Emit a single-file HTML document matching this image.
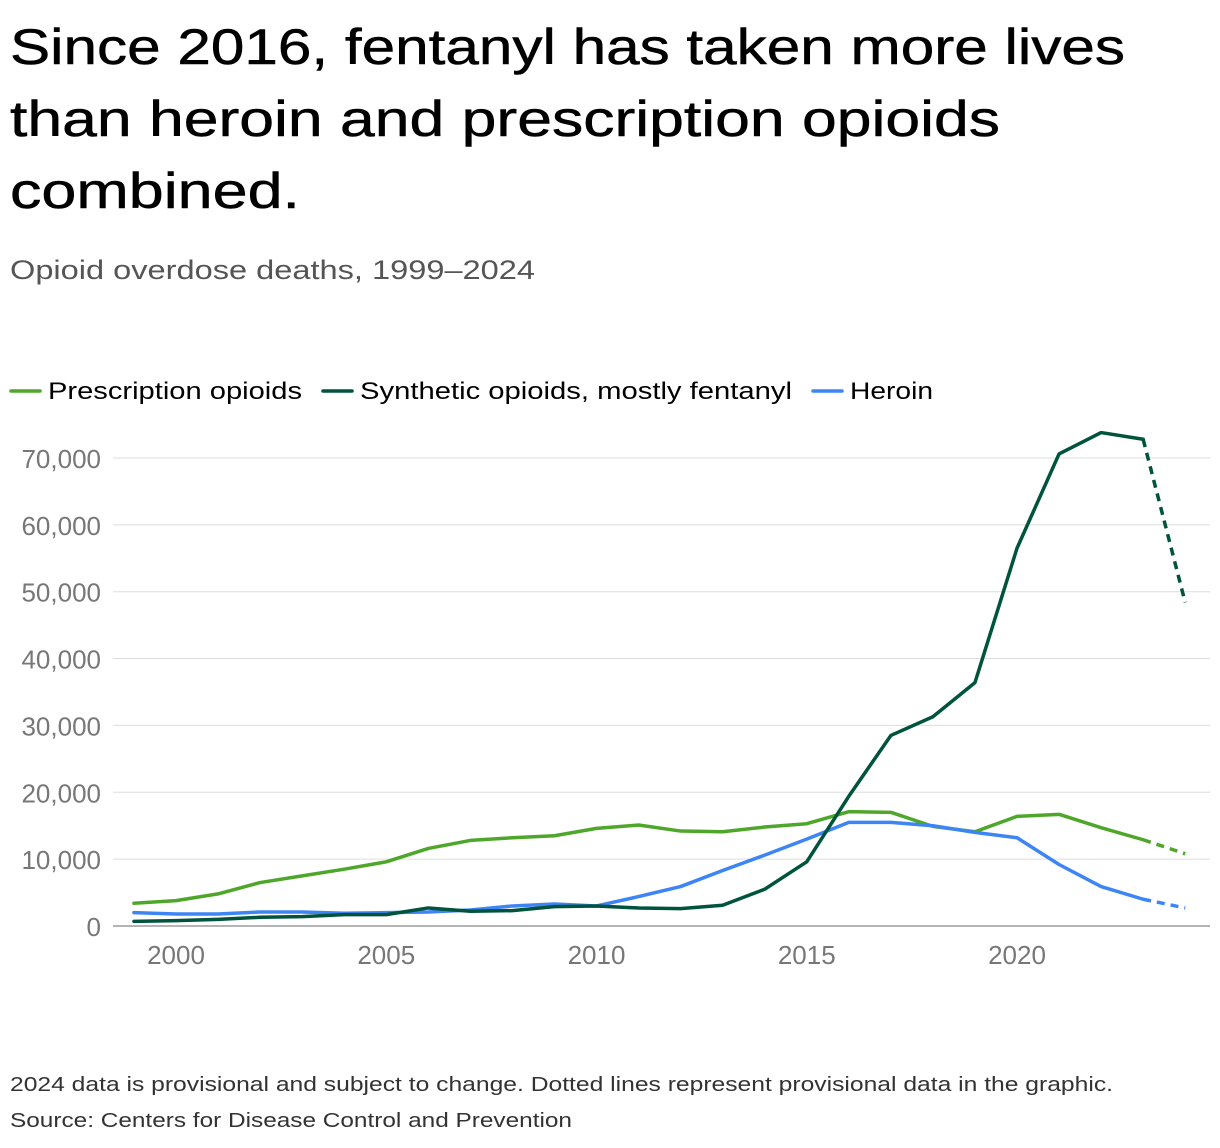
<!DOCTYPE html>
<html><head><meta charset="utf-8"><style>
html,body{margin:0;padding:0;background:#fff;}
svg{display:block;font-family:"Liberation Sans",sans-serif;}
</style></head><body>
<svg id="chart" width="1220" height="1148" viewBox="0 0 1220 1148">
<text x="10" y="64" font-size="50" fill="#000" stroke="#000" stroke-width="0.5" textLength="1115" lengthAdjust="spacingAndGlyphs">Since 2016, fentanyl has taken more lives</text>
<text x="10" y="136" font-size="50" fill="#000" stroke="#000" stroke-width="0.5" textLength="990" lengthAdjust="spacingAndGlyphs">than heroin and prescription opioids</text>
<text x="10" y="208" font-size="50" fill="#000" stroke="#000" stroke-width="0.5" textLength="290" lengthAdjust="spacingAndGlyphs">combined.</text>
<text x="10" y="279" font-size="27" fill="#555" textLength="525" lengthAdjust="spacingAndGlyphs">Opioid overdose deaths, 1999–2024</text>
<g>
<line x1="11" y1="391" x2="40" y2="391" stroke="#4ea72a" stroke-width="3.5" stroke-linecap="round"/>
<text x="48" y="399" font-size="24" fill="#000" textLength="254" lengthAdjust="spacingAndGlyphs">Prescription opioids</text>
<line x1="323" y1="391" x2="352" y2="391" stroke="#00533c" stroke-width="3.5" stroke-linecap="round"/>
<text x="360" y="399" font-size="24" fill="#000" textLength="432" lengthAdjust="spacingAndGlyphs">Synthetic opioids, mostly fentanyl</text>
<line x1="813" y1="391" x2="842" y2="391" stroke="#3d85f5" stroke-width="3.5" stroke-linecap="round"/>
<text x="850" y="399" font-size="24" fill="#000" textLength="83" lengthAdjust="spacingAndGlyphs">Heroin</text>
</g>
<g id="grid"></g><g id="series"></g><g id="xaxis"></g>
<text x="10" y="1091" font-size="20" fill="#333" textLength="1103" lengthAdjust="spacingAndGlyphs">2024 data is provisional and subject to change. Dotted lines represent provisional data in the graphic.</text>
<text x="10" y="1127" font-size="20" fill="#333" textLength="562" lengthAdjust="spacingAndGlyphs">Source: Centers for Disease Control and Prevention</text>
</svg>
<script>
const years=[1999,2000,2001,2002,2003,2004,2005,2006,2007,2008,2009,2010,2011,2012,2013,2014,2015,2016,2017,2018,2019,2020,2021,2022,2023,2024];
const prescription=[3400,3800,4800,6500,7500,8500,9600,11600,12800,13200,13500,14600,15100,14200,14100,14800,15300,17100,17000,14900,14100,16400,16700,14700,12900,10800];
const synthetic=[700,800,1000,1300,1400,1700,1700,2700,2200,2300,2900,3000,2700,2600,3100,5500,9600,19400,28500,31300,36400,56500,70600,73800,72800,48400];
const heroin=[2000,1800,1800,2100,2100,1900,2000,2100,2400,3000,3300,3000,4400,5900,8300,10600,13000,15500,15500,15000,14000,13200,9200,5900,4000,2700];
const yTicks=[0,10000,20000,30000,40000,50000,60000,70000];
const xTicks=[2000,2005,2010,2015,2020];
const NS="http://www.w3.org/2000/svg";
const x=v=>176+(v-2000)*42.05;
const y=v=>926-v*0.006686;
function mk(tag,attrs,parent){const e=document.createElementNS(NS,tag);for(const k in attrs)e.setAttribute(k,attrs[k]);parent.appendChild(e);return e;}
const grid=document.getElementById('grid');
yTicks.forEach(t=>{
  const l=mk('line',{x1:113,x2:1210,y1:y(t),y2:y(t),stroke:t===0?'#888':'#ddd','stroke-width':t===0?1.2:1},grid);
  
  
  const tx=mk('text',{x:101,y:y(t)+10,'font-size':26,fill:'#777','text-anchor':'end'},grid);
  tx.textContent=t.toLocaleString('en-US');
  
  
});
const xa=document.getElementById('xaxis');
xTicks.forEach(t=>{
  const tx=mk('text',{x:x(t),y:964,'font-size':26,fill:'#777','text-anchor':'middle'},xa);
  tx.textContent=t;
  
  
});
const sg=document.getElementById('series');
[[prescription,'#4ea72a','prescription'],[heroin,'#3d85f5','heroin'],[synthetic,'#00533c','synthetic']].forEach(([d,c,n])=>{
  const n1=d.length-1;
  const solid=d.slice(0,n1).map((v,i)=>(i?'L':'M')+x(years[i])+','+y(v)).join('');
  const p=mk('path',{d:solid,fill:'none',stroke:c,'stroke-width':3.5,'stroke-linejoin':'round','stroke-linecap':'round'},sg);
  
  
  const dp=mk('path',{d:'M'+x(years[n1-1])+','+y(d[n1-1])+'L'+x(years[n1])+','+y(d[n1]),fill:'none',stroke:c,'stroke-width':3.5,'stroke-dasharray':'8 6'},sg);
  
  
});
</script>
</body></html>
